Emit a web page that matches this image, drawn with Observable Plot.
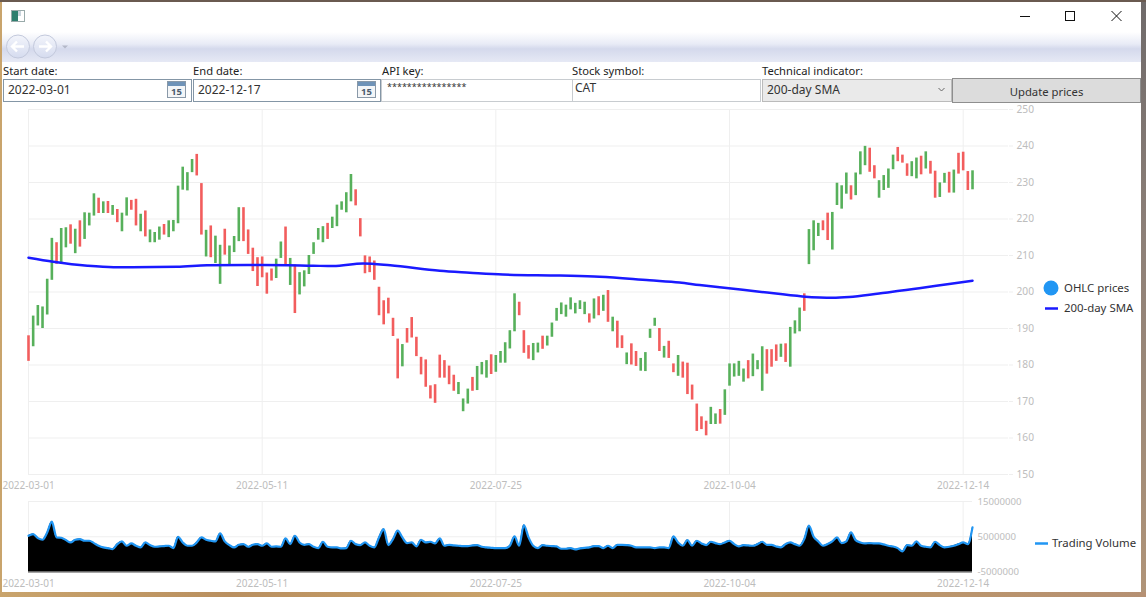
<!DOCTYPE html>
<html>
<head>
<meta charset="utf-8">
<script src="https://cdn.jsdelivr.net/npm/d3@7"></script>
<script src="https://cdn.jsdelivr.net/npm/@observablehq/plot@0.6"></script>
<style>
html,body{margin:0;padding:0;width:1146px;height:597px;overflow:hidden;font-family:"Noto Sans",sans-serif;color:#222;
 background:linear-gradient(90deg,#c9a46c 0%,#b98f5f 20%,#caa36a 45%,#bf9866 70%,#b59073 100%);}
#win{position:absolute;left:2px;top:2px;width:1139px;height:590px;background:#fff;}
#topline{position:absolute;left:0;top:0;width:1146px;height:2px;background:#6a5a50;}
#rightedge{position:absolute;left:1141px;top:2px;width:5px;height:590px;background:linear-gradient(180deg,#6f6a6a 0%,#8d8078 40%,#b09478 100%);}
#ribbon{position:absolute;left:2px;top:32px;width:1139px;height:30px;background:linear-gradient(180deg,#fff 0%,#e8ebf6 40%,#d4d9ec 56%,#e6e9f5 100%);}
.abs{position:absolute;white-space:nowrap;}
.lbl{font-size:11.2px;line-height:14px;top:64px;color:#222;}
.box{position:absolute;top:79px;height:21px;border:1px solid #8496a6;background:#fff;box-sizing:content-box;font-size:12px;line-height:20px;color:#333;padding-left:4px;}
.cal{position:absolute;top:81px;width:19px;height:17px;border:1px solid #8a99a8;background:#f4f6f8;box-sizing:border-box;font-size:9.5px;line-height:11px;text-align:center;font-weight:700;color:#4a5c6e;padding-top:4px;}
.cal:before{content:"";position:absolute;left:0;top:0;right:0;height:4px;background:#6f93b8;}
#chart,#vol{position:absolute;left:0;}
#chart{top:103px;}
#vol{top:495px;}
#chart svg,#vol svg{display:block;overflow:visible;background:transparent;}
.leg{position:absolute;font-size:11.4px;line-height:14px;color:#333;white-space:nowrap;}
</style>
</head>
<body>
<div id="topline"></div>
<div id="rightedge"></div>
<div id="win"></div>
<div id="ribbon"></div>

<svg class="abs" style="left:0;top:0" width="1146" height="62">
  <rect x="11.5" y="10.5" width="13" height="11" fill="#fff" stroke="#9aa"/>
  <rect x="12" y="11" width="6" height="10" fill="#2f7f6f"/>
  <rect x="18" y="11" width="3" height="5" fill="#c9d4dc"/>
  <line x1="1020" x2="1030" y1="16.5" y2="16.5" stroke="#111"/>
  <rect x="1065.5" y="11.5" width="9" height="9" fill="none" stroke="#111"/>
  <path d="M1111.5 11L1121.5 21M1121.5 11L1111.5 21" stroke="#111" fill="none"/>
  <defs><linearGradient id="navg" x1="0" y1="0" x2="0" y2="1"><stop offset="0" stop-color="#f3f5fb"/><stop offset="1" stop-color="#d5dbef"/></linearGradient></defs>
  <circle cx="18" cy="46.5" r="11.5" fill="url(#navg)" stroke="#c3c9dc"/>
  <circle cx="45" cy="46.5" r="11.5" fill="url(#navg)" stroke="#c3c9dc"/>
  <path d="M24 46.5H13M17 41.5L12 46.5L17 51.5" stroke="#fff" stroke-width="2.4" fill="none"/>
  <path d="M39 46.5H50M46 41.5L51 46.5L46 51.5" stroke="#fff" stroke-width="2.4" fill="none"/>
  <path d="M62 45.5H68L65 48.5Z" fill="#b3b8c8"/>
</svg>

<div class="abs lbl" style="left:3px">Start date:</div>
<div class="abs lbl" style="left:193px">End date:</div>
<div class="abs lbl" style="left:382px">API key:</div>
<div class="abs lbl" style="left:572px">Stock symbol:</div>
<div class="abs lbl" style="left:762px">Technical indicator:</div>

<div class="box" style="left:3px;width:183px;">2022-03-01</div>
<div class="cal" style="left:167px">15</div>
<div class="box" style="left:193px;width:182px;">2022-12-17</div>
<div class="cal" style="left:357px">15</div>
<div class="box" style="left:381px;width:186px;padding-left:5px;font-size:9px;line-height:14px;border-color:#c8ccd0;height:21px;">****************</div>
<div class="box" style="left:572px;width:185px;padding-left:2px;line-height:16px;border-color:#c8ccd0;">CAT</div>
<div class="box" style="left:762px;width:184px;background:#eaeaea;border-color:#bbb;padding-left:4px;">200-day SMA</div>
<svg class="abs" style="left:938px;top:87px" width="8" height="6"><path d="M0.5 1L3.5 4L6.5 1" stroke="#666" fill="none"/></svg>
<div class="box" style="left:952px;top:78px;width:187px;height:23px;padding:0;background:#dcdcdc;border-color:#8e8e8e;text-align:center;line-height:25px;font-size:11.3px;">Update prices</div>

<div id="chart"></div>
<div id="vol"></div>

<svg class="abs" style="left:0;top:0;pointer-events:none" width="1146" height="597">
  <circle cx="1051" cy="288" r="7.5" fill="#2196f3"/>
  <line x1="1045" x2="1058" y1="308.5" y2="308.5" stroke="#1a1aff" stroke-width="2.5"/>
  <line x1="1035" x2="1048" y1="543.5" y2="543.5" stroke="#2196f3" stroke-width="2.5"/>
</svg>
<div class="leg" style="left:1064px;top:281px">OHLC prices</div>
<div class="leg" style="left:1064px;top:301px">200-day SMA</div>
<div class="leg" style="left:1052px;top:536px">Trading Volume</div>

<script>
// Trading-day index of the category-axis ticks and their labels
const tickIndex = [0, 50, 100, 150, 200];
const tickLabels = ["2022-03-01", "2022-05-11", "2022-07-25", "2022-10-04", "2022-12-14"];
const priceTicks = [150,160,170,180,190,200,210,220,230,240,250];
const volumeTicks = [-5000000, 5000000, 15000000];

const priceHigh = [
188,193.4,196.3,195.9,203.5,214.7,213.5,217.4,217.6,218.4,
217.2,219.5,221.7,221.6,226.9,225.7,224.7,224.8,223.7,222.6,
221.6,225.8,225.1,225.4,221.3,222.2,217,216.3,217.8,218.5,
219.5,219.6,229,234.2,232.7,236.3,237.7,229.7,216.9,218.1,
215.3,212.8,217.2,212.6,215.2,223.1,223.1,217,212,209.4,
209.6,205.2,206.3,209,213.7,217.8,209.2,207.4,205.3,205.8,
210,213.5,217.4,217.9,218.8,220.5,223.8,224.7,227.2,232.2,
228,220.1,209.9,209.6,208.5,201.3,197.6,198.3,192.8,187.1,
185.6,190,193,187.6,182.1,181.4,174.3,174.6,182.7,181.2,
179.7,177.2,175.2,170.7,173.4,176.6,179.6,180.7,181.2,182.8,
182.6,183.7,186.1,189.4,199.5,197.2,189.4,185.3,185.9,186,
187.9,187.9,191.5,195.5,197,196.4,198.4,196.9,197.6,197.2,
194,198.1,198.7,199.1,200.4,193.1,192,188,183.3,185.8,
183.7,181.8,183.4,189.8,192.8,190,185.1,186.5,180.3,182.6,
180.8,180.5,174.5,169.3,165.8,164.6,168.4,166.6,167.8,173.2,
180.3,180.3,181,178.9,181.2,183,181.2,185,184.2,184.2,
185.5,185.7,185.8,190.3,192.1,195.6,199.5,217.1,219.5,218.8,
219.5,221.6,221.8,229.8,229.1,232.6,229.1,232.6,238.4,239.9,
239.4,234.6,230.5,231.9,233.7,237.5,239.6,237.5,235.1,235.7,
236.7,237.2,238.4,235.8,233.1,229.9,232.5,232.8,233.4,238,
238.3,233,233.2];

const priceLow = [
181,185,190.7,190,193.7,203.2,207.6,208,212.1,213.1,
210.5,212.3,214.4,218.1,220.8,221.5,221.5,221.5,221,219,
216.5,220.8,222.4,218.1,216.5,215.1,213.5,213.5,214.2,215.6,
214.9,216.5,218.7,227.9,227.7,232.7,231.8,215.6,209.6,209.4,
207.8,202.1,210.1,207.4,210.8,213.8,213.8,210.3,205.6,201.5,
203.9,199.4,203,203.7,209.2,207.4,201.8,194.1,199.2,201.4,
204.8,210.3,214.2,213.5,214.4,217.4,217.9,222.4,221.7,224.7,
223.6,215.1,205,205.3,203.2,193.5,191,194,187.8,176.2,
179.5,186,187.4,182.3,177.3,173.9,170.7,169.5,176.4,176.4,
174.6,172.8,171.9,167.2,169.3,172.8,173,177.3,176.4,177.4,
178,180.5,180.5,184.4,189.1,193.5,183.2,181.6,181.2,183.3,
184.3,185.2,187.6,192,193.8,193.1,195.1,194,195.2,193.8,
191.5,192.6,193.5,194.7,191.7,189.1,184.6,184.5,180.1,180,
179.6,178.3,178.2,187.3,190.6,183.7,181.9,181.8,177.9,176.9,
176.4,171.9,170.4,161.8,162.3,160.6,163.7,163.7,163.8,166.2,
174.2,176.7,176.9,175.3,176.2,176.8,178.7,172.8,177.5,179.4,
181,182.1,180.7,179.4,188.5,189.1,194.7,207.5,211.3,215.2,
216.8,214.1,211.5,223.7,222.7,226.8,225.2,226.4,232.1,234.6,
232.8,231,225.7,227.8,228.4,233.5,235.7,235.3,231.7,231.6,
231,232.1,233.7,232.3,225.7,225.9,229.8,227.1,227.1,232.3,
233.2,227.8,228];

// g = green bar, r = red bar
const priceTone = (
"rgggggrggr"+"grgggrgrgr"+"ggrrgrgggr"+"ggggggrrgr"+"ggrgggrrrr"+
"rrrggrgrgg"+"ggggrggggg"+"rrrrrrrrrr"+"grrrrrrrrr"+"rrgggrgggr"+
"gggggrrrgg"+"rggggggggg"+"rgrgrgrrgr"+"rggggrgrrg"+"rrrrrrggrg"+
"ggggrgggrr"+"rgrgggrggg"+"rrggggrggg"+"rrggggrrrg"+"grgrrggrgr"+"rrg").split("");

// 200-day SMA at these trading-day positions
const smaIndex = [0,5.3,12.6,18.2,31.8,38.2,50,60.9,65.2,71.6,77.4,88,94.4,101.5,113.7,122.2,132.9,139.3,
                  143.6,147.9,156.4,165.6,172,175.6,182,190.6,197,202];
const smaValue = [209.4,208.3,207.2,206.8,206.9,207.3,207.4,207.2,207.1,207.8,207.3,205.8,205.3,204.8,204.5,
                  204.2,203.2,202.6,201.9,201.3,200.1,198.8,198.4,198.6,199.6,201,202.2,203.1];

// Trading volume in millions of shares, one value per trading day
const volumeMillions = [
5.28,5.76,4.62,4.15,6.23,9.27,4.81,4.72,4.05,3.39,
4.15,4.34,3.86,3.86,3.20,2.44,1.97,1.78,1.49,2.91,
3.67,2.44,3.10,2.44,1.97,3.39,2.63,2.16,2.25,2.35,
2.44,1.78,5.00,3.39,2.44,2.44,3.39,4.81,4.15,3.86,
3.67,5.95,3.67,2.63,1.97,2.72,2.91,2.16,2.72,2.91,
2.44,3.10,2.16,2.25,2.16,4.53,2.91,5.28,3.39,2.72,
2.91,2.16,1.78,3.58,2.16,1.97,1.97,1.68,1.78,3.86,
2.91,2.63,3.39,2.44,1.97,4.81,7.18,2.63,4.34,6.71,
4.81,3.20,3.39,2.25,4.15,3.39,3.58,3.10,4.53,2.44,
2.72,2.53,2.44,2.35,2.35,2.53,2.63,2.16,1.97,1.87,
1.78,1.78,1.78,2.44,5.09,2.44,8.32,4.81,2.44,1.78,
2.63,2.44,2.35,2.25,1.59,1.59,1.78,1.40,1.68,1.87,
1.97,2.35,2.35,1.78,2.44,1.78,2.72,2.72,2.63,2.44,
1.97,1.97,1.97,1.97,1.78,1.97,1.97,1.78,5.09,3.39,
2.44,4.05,2.44,3.86,3.10,2.63,3.58,3.20,2.91,3.39,
3.86,2.91,2.25,2.63,2.53,2.44,2.91,3.58,2.72,2.72,
2.25,1.97,2.91,3.39,2.91,2.44,4.34,8.13,5.00,3.67,
2.44,2.91,3.67,4.81,3.20,3.67,6.23,4.05,3.39,3.10,
3.20,3.10,3.10,2.82,2.44,2.25,1.78,0.83,2.63,2.44,
3.67,2.44,2.16,1.97,3.58,2.63,1.97,2.16,2.44,2.91,
3.39,2.91,7.65];

const FONT = '"Noto Sans",sans-serif';
const GRID = "#efefef";
const TICK = "#bdbdbd";
const labelOf = i => tickLabels[tickIndex.indexOf(i)];

const bars = priceHigh.map((h, i) => ({i, high: h, low: priceLow[i], tone: priceTone[i]}));
const sma = smaIndex.map((i, k) => ({i, v: smaValue[k]}));
const vols = volumeMillions.map((m, i) => ({i, v: m * 1e6}));

const main = Plot.plot({
  width: 1146, height: 390,
  marginLeft: 28, marginRight: 138, marginTop: 6, marginBottom: 19,
  style: {fontFamily: FONT, background: "transparent"},
  x: {type: "linear", domain: [0, 209.7], label: null},
  y: {domain: [150, 250], label: null},
  color: {domain: ["g", "r"], range: ["#57b05b", "#f25d5d"]},
  marks: [
    Plot.gridX(tickIndex, {stroke: GRID, strokeOpacity: 1}),
    Plot.gridY(priceTicks, {stroke: GRID, strokeOpacity: 1}),
    Plot.ruleX(bars, {x: "i", y1: "low", y2: "high", stroke: "tone", strokeWidth: 2.6}),
    Plot.line(sma, {x: "i", y: "v", stroke: "#1a1aff", strokeWidth: 2.5, curve: "monotone-x"}),
    Plot.axisX(tickIndex, {anchor: "bottom", tickSize: 0, tickPadding: 7, tickFormat: labelOf, fill: TICK, fontSize: 10, label: null}),
    Plot.axisY(priceTicks, {anchor: "right", tickSize: 4, tickPadding: 4, stroke: GRID, fill: TICK, fontSize: 10.2, label: null})
  ]
});
document.getElementById("chart").append(main);

const volume = Plot.plot({
  width: 1146, height: 97,
  marginLeft: 28, marginRight: 174, marginTop: 6, marginBottom: 20.5,
  style: {fontFamily: FONT, background: "transparent"},
  x: {type: "linear", domain: [0, 202], label: null},
  y: {domain: [-5000000, 15000000], label: null},
  marks: [
    Plot.gridX(tickIndex, {stroke: GRID, strokeOpacity: 1}),
    Plot.gridY(volumeTicks, {stroke: GRID, strokeOpacity: 1}),
    Plot.areaY(vols, {x: "i", y1: -5000000, y2: "v", fill: "#000", curve: "monotone-x"}),
    Plot.line(vols, {x: "i", y: "v", stroke: "#2196f3", strokeWidth: 2.2, curve: "monotone-x"}),
    Plot.ruleY([-5000000], {stroke: "#555", strokeWidth: 1}),
    Plot.axisX(tickIndex, {anchor: "bottom", tickSize: 0, tickPadding: 8, tickFormat: labelOf, fill: TICK, fontSize: 10, label: null}),
    Plot.axisY(volumeTicks, {anchor: "right", tickSize: 0, tickPadding: 5, tickFormat: d => String(d), fill: TICK, fontSize: 9.6, label: null})
  ]
});
document.getElementById("vol").append(volume);
</script>
</body>
</html>
